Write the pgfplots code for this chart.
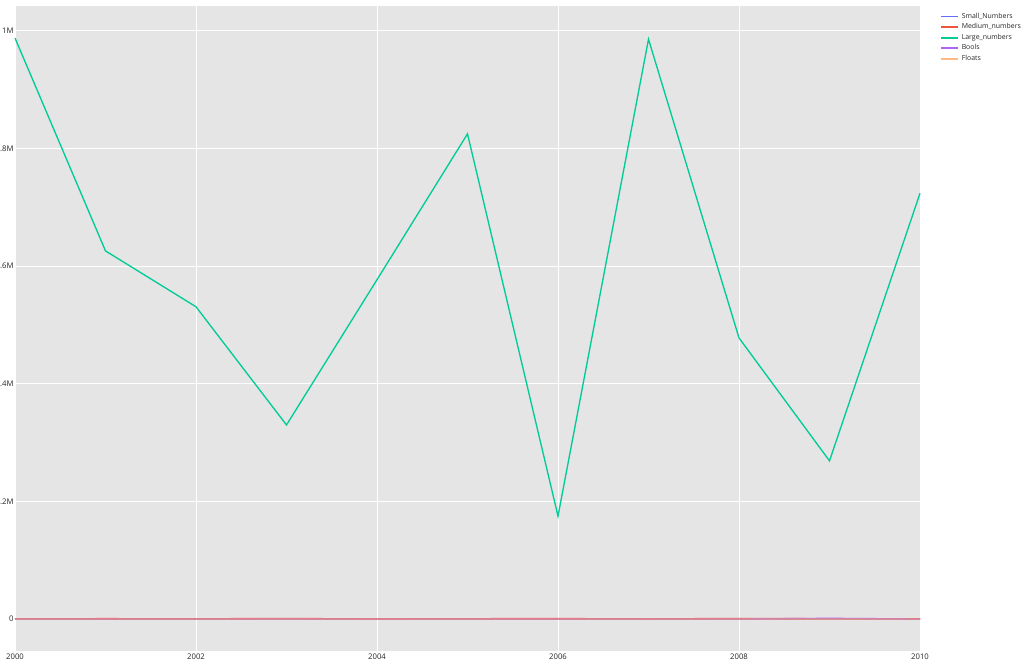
\documentclass[border=0pt]{standalone}
\usepackage{pgfplots}
\pgfplotsset{compat=1.18}
\usepackage{fontspec}
\setmainfont{Open Sans}
\definecolor{bgc}{HTML}{E5E5E5}
\definecolor{c1}{HTML}{636EFA}
\definecolor{c2}{HTML}{EF553B}
\definecolor{c3}{HTML}{00CC96}
\definecolor{c4}{HTML}{AB63FA}
\definecolor{c5}{HTML}{FFA15A}
\begin{document}
\begin{tikzpicture}
\useasboundingbox (0,0) rectangle (768pt,498pt);
\begin{axis}[
  at={(11.25pt,9.75pt)}, anchor=south west,
  width=678.75pt, height=483.75pt, scale only axis,
  xmin=2000, xmax=2010, ymin=-54400, ymax=1042500,
  axis background/.style={fill=bgc},
  axis line style={draw=none},
  major tick length=0pt,
  xtick={2000,2002,2004,2006,2008,2010},
  xticklabels={2000,2002,2004,2006,2008,2010},
  ytick={0,200000,400000,600000,800000,1000000},
  yticklabels={0,0.2M,0.4M,0.6M,0.8M,1M},
  grid=major, major grid style={white, line width=0.75pt},
  tick label style={font=\fontsize{5.8}{6.5}\selectfont, text=black!85},
  xticklabel style={yshift=1pt},
  yticklabel style={xshift=2.5pt},
  legend style={at={(1.0,1.0)}, anchor=north west, xshift=12pt, yshift=-1pt, draw=none, fill=none,
    font=\fontsize{5.2}{6}\selectfont, row sep=-1.5pt, text=black!85},
  legend cell align=left,
  legend image post style={xscale=0.75, line width=1.3pt},
  every axis plot/.append style={line width=1pt},
  clip=false,
]
\addplot[c1, mark=none] coordinates {(2000,12) (2001,45) (2002,30) (2003,80) (2004,22) (2005,60) (2006,15) (2007,90) (2008,40) (2009,70) (2010,25)};
\addlegendentry{Small\_Numbers}
\addplot[c2, mark=none] coordinates {(2000,350) (2001,620) (2002,410) (2003,880) (2004,150) (2005,540) (2006,730) (2007,260) (2008,910) (2009,480) (2010,300)};
\addlegendentry{Medium\_numbers}
\addplot[c3, mark=none] coordinates {(2000,988000) (2001,626000) (2002,531000) (2003,330000) (2004,577000) (2005,825000) (2006,175000) (2007,986000) (2008,478000) (2009,269000) (2010,724000)};
\addlegendentry{Large\_numbers}
\addplot[c4, mark=none] coordinates {(2000,0) (2001,1) (2002,0) (2003,1) (2004,0) (2005,1) (2006,0) (2007,1) (2008,0) (2009,1200) (2010,0)};
\addlegendentry{Bools}
\addplot[c5, opacity=0.75, mark=none] coordinates {(2000,0.5) (2001,1.2) (2002,2.5) (2003,0.8) (2004,3.1) (2005,1.7) (2006,2.2) (2007,0.4) (2008,1.9) (2009,2.6) (2010,1.1)};
\addlegendentry{Floats}
\end{axis}
\end{tikzpicture}
\end{document}
